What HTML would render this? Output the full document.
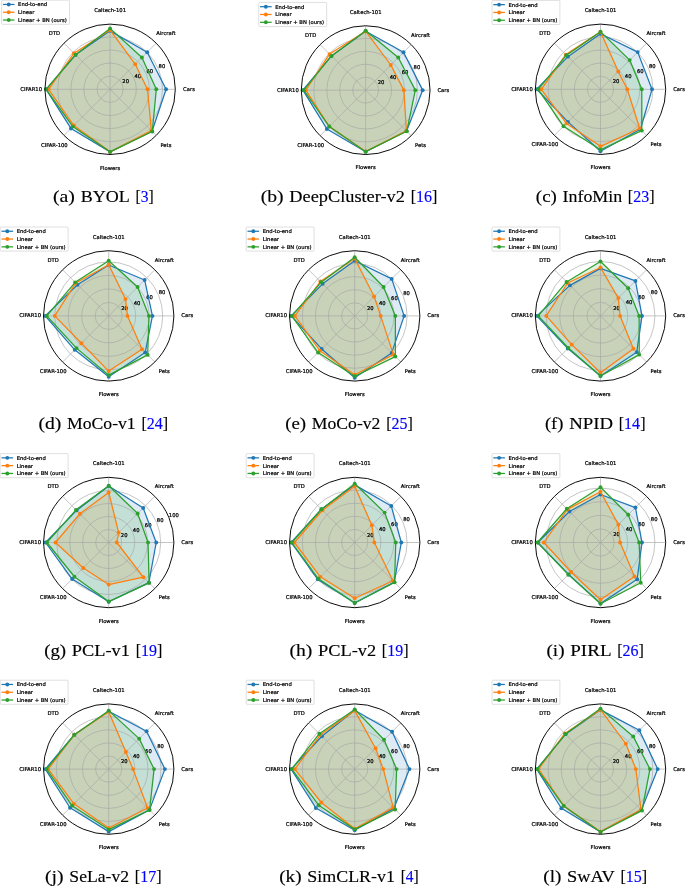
<!DOCTYPE html>
<html><head><meta charset="utf-8"><title>Radar charts</title>
<style>
html,body{margin:0;padding:0;background:#fff}
svg{display:block}
.t{font-family:"DejaVu Sans","Liberation Sans",sans-serif;font-size:5.25px;fill:#000;stroke:#000;stroke-width:0.22}
.c{font-family:"Liberation Serif",serif;font-size:17.2px;fill:#000;stroke:#000;stroke-width:0.15}
.c .r{fill:#0000ff;stroke:#0000ff}
.gr{stroke:#a6a6a6;stroke-width:0.65;fill:none}
.ln{fill:none;stroke-width:1.25;stroke-linejoin:round}
</style></head><body>
<svg width="685" height="886" viewBox="0 0 685 886">
<rect width="685" height="886" fill="#fff"/>

<g transform="translate(110.1,89.3)">
<polygon points="56,-0 37.1,-37.1 0,-58.45 -34.54,-34.54 -63.97,-0 -39.13,39.13 -0,62.54 41.91,41.91" fill="#1f77b4" fill-opacity="0.15" stroke="none"/>
<polygon points="37.4,-0 25.15,-25.15 0,-59.27 -36.13,-36.13 -61.52,-0 -36.27,36.27 -0,62.54 41.29,41.29" fill="#ff7f0e" fill-opacity="0.15" stroke="none"/>
<polygon points="46.19,-0 31.79,-31.79 0,-60.9 -34.54,-34.54 -63.97,-0 -37.28,37.28 -0,62.54 42.2,42.2" fill="#2ca02c" fill-opacity="0.15" stroke="none"/>
<circle class="gr" r="13.1"/><circle class="gr" r="26.2"/><circle class="gr" r="39.3"/><circle class="gr" r="52.4"/><line class="gr" x2="65.2" y2="-0"/><line class="gr" x2="46.1" y2="-46.1"/><line class="gr" x2="0" y2="-65.2"/><line class="gr" x2="-46.1" y2="-46.1"/><line class="gr" x2="-65.2" y2="-0"/><line class="gr" x2="-46.1" y2="46.1"/><line class="gr" x2="-0" y2="65.2"/><line class="gr" x2="46.1" y2="46.1"/>
<text class="t" x="12.2" y="-6.01">20</text>
<text class="t" x="24.31" y="-11.03">40</text>
<text class="t" x="36.41" y="-16.04">60</text>
<text class="t" x="48.51" y="-21.05">80</text>
<polygon class="ln" points="56,-0 37.1,-37.1 0,-58.45 -34.54,-34.54 -63.97,-0 -39.13,39.13 -0,62.54 41.91,41.91" stroke="#1f77b4"/>
<circle cx="56" cy="-0" r="1.95" fill="#1f77b4"/><circle cx="37.1" cy="-37.1" r="1.95" fill="#1f77b4"/><circle cx="0" cy="-58.45" r="1.95" fill="#1f77b4"/><circle cx="-34.54" cy="-34.54" r="1.95" fill="#1f77b4"/><circle cx="-63.97" cy="-0" r="1.95" fill="#1f77b4"/><circle cx="-39.13" cy="39.13" r="1.95" fill="#1f77b4"/><circle cx="-0" cy="62.54" r="1.95" fill="#1f77b4"/><circle cx="41.91" cy="41.91" r="1.95" fill="#1f77b4"/>
<polygon class="ln" points="37.4,-0 25.15,-25.15 0,-59.27 -36.13,-36.13 -61.52,-0 -36.27,36.27 -0,62.54 41.29,41.29" stroke="#ff7f0e"/>
<circle cx="37.4" cy="-0" r="1.95" fill="#ff7f0e"/><circle cx="25.15" cy="-25.15" r="1.95" fill="#ff7f0e"/><circle cx="0" cy="-59.27" r="1.95" fill="#ff7f0e"/><circle cx="-36.13" cy="-36.13" r="1.95" fill="#ff7f0e"/><circle cx="-61.52" cy="-0" r="1.95" fill="#ff7f0e"/><circle cx="-36.27" cy="36.27" r="1.95" fill="#ff7f0e"/><circle cx="-0" cy="62.54" r="1.95" fill="#ff7f0e"/><circle cx="41.29" cy="41.29" r="1.95" fill="#ff7f0e"/>
<polygon class="ln" points="46.19,-0 31.79,-31.79 0,-60.9 -34.54,-34.54 -63.97,-0 -37.28,37.28 -0,62.54 42.2,42.2" stroke="#2ca02c"/>
<circle cx="46.19" cy="-0" r="1.95" fill="#2ca02c"/><circle cx="31.79" cy="-31.79" r="1.95" fill="#2ca02c"/><circle cx="0" cy="-60.9" r="1.95" fill="#2ca02c"/><circle cx="-34.54" cy="-34.54" r="1.95" fill="#2ca02c"/><circle cx="-63.97" cy="-0" r="1.95" fill="#2ca02c"/><circle cx="-37.28" cy="37.28" r="1.95" fill="#2ca02c"/><circle cx="-0" cy="62.54" r="1.95" fill="#2ca02c"/><circle cx="42.2" cy="42.2" r="1.95" fill="#2ca02c"/>
<circle r="65.2" fill="none" stroke="#000" stroke-width="0.95"/>
<text class="t" x="78.9" y="1.45" text-anchor="middle">Cars</text>
<text class="t" x="55.79" y="-54.34" text-anchor="middle">Aircraft</text>
<text class="t" x="0" y="-77.45" text-anchor="middle">Caltech-101</text>
<text class="t" x="-55.79" y="-54.34" text-anchor="middle">DTD</text>
<text class="t" x="-78.9" y="1.45" text-anchor="middle">CIFAR10</text>
<text class="t" x="-55.79" y="57.24" text-anchor="middle">CIFAR-100</text>
<text class="t" x="-0" y="80.35" text-anchor="middle">Flowers</text>
<text class="t" x="55.79" y="57.24" text-anchor="middle">Pets</text>
<rect x="-108.5" y="-89.1" width="67.9" height="24.1" rx="0.9" fill="#fff" fill-opacity="0.8" stroke="#c6c6c6" stroke-width="0.55"/>
<line x1="-107.2" x2="-95.6" y1="-84.85" y2="-84.85" stroke="#1f77b4" stroke-width="1.25"/><circle cx="-101.4" cy="-84.85" r="1.95" fill="#1f77b4"/>
<text class="t" x="-92" y="-82.95">End-to-end</text>
<line x1="-107.2" x2="-95.6" y1="-77.05" y2="-77.05" stroke="#ff7f0e" stroke-width="1.25"/><circle cx="-101.4" cy="-77.05" r="1.95" fill="#ff7f0e"/>
<text class="t" x="-92" y="-75.15">Linear</text>
<line x1="-107.2" x2="-95.6" y1="-69.25" y2="-69.25" stroke="#2ca02c" stroke-width="1.25"/><circle cx="-101.4" cy="-69.25" r="1.95" fill="#2ca02c"/>
<text class="t" x="-92" y="-67.35">Linear + BN (ours)</text>
</g>
<text class="c" x="53.04" y="202.2" textLength="21.92" lengthAdjust="spacingAndGlyphs">(a)</text>
<text class="c" x="80.67" y="202.2" textLength="49.07" lengthAdjust="spacingAndGlyphs">BYOL</text>
<text class="c" x="135.45" y="202.2" textLength="18.11" lengthAdjust="spacingAndGlyphs">[<tspan class="r">3</tspan>]</text>
<g transform="translate(365.65,90.15)">
<polygon points="57.02,-0 37.86,-37.86 0,-58.86 -34.25,-34.25 -62.74,-0 -38.8,38.8 -0,61.62 40.9,40.9" fill="#1f77b4" fill-opacity="0.15" stroke="none"/>
<polygon points="38.22,-0 25.15,-25.15 0,-58.96 -36.06,-36.06 -59.88,-0 -36.35,36.35 -0,61.31 40.75,40.75" fill="#ff7f0e" fill-opacity="0.15" stroke="none"/>
<polygon points="49.66,-0 32.6,-32.6 0,-59.47 -34.18,-34.18 -61.93,-0 -36.35,36.35 -0,61.52 41.11,41.11" fill="#2ca02c" fill-opacity="0.15" stroke="none"/>
<circle class="gr" r="12.95"/><circle class="gr" r="25.9"/><circle class="gr" r="38.85"/><circle class="gr" r="51.8"/><line class="gr" x2="64.4" y2="-0"/><line class="gr" x2="45.54" y2="-45.54"/><line class="gr" x2="0" y2="-64.4"/><line class="gr" x2="-45.54" y2="-45.54"/><line class="gr" x2="-64.4" y2="-0"/><line class="gr" x2="-45.54" y2="45.54"/><line class="gr" x2="-0" y2="64.4"/><line class="gr" x2="45.54" y2="45.54"/>
<text class="t" x="12.06" y="-5.96">20</text>
<text class="t" x="24.03" y="-10.91">40</text>
<text class="t" x="35.99" y="-15.87">60</text>
<text class="t" x="47.96" y="-20.82">80</text>
<polygon class="ln" points="57.02,-0 37.86,-37.86 0,-58.86 -34.25,-34.25 -62.74,-0 -38.8,38.8 -0,61.62 40.9,40.9" stroke="#1f77b4"/>
<circle cx="57.02" cy="-0" r="1.95" fill="#1f77b4"/><circle cx="37.86" cy="-37.86" r="1.95" fill="#1f77b4"/><circle cx="0" cy="-58.86" r="1.95" fill="#1f77b4"/><circle cx="-34.25" cy="-34.25" r="1.95" fill="#1f77b4"/><circle cx="-62.74" cy="-0" r="1.95" fill="#1f77b4"/><circle cx="-38.8" cy="38.8" r="1.95" fill="#1f77b4"/><circle cx="-0" cy="61.62" r="1.95" fill="#1f77b4"/><circle cx="40.9" cy="40.9" r="1.95" fill="#1f77b4"/>
<polygon class="ln" points="38.22,-0 25.15,-25.15 0,-58.96 -36.06,-36.06 -59.88,-0 -36.35,36.35 -0,61.31 40.75,40.75" stroke="#ff7f0e"/>
<circle cx="38.22" cy="-0" r="1.95" fill="#ff7f0e"/><circle cx="25.15" cy="-25.15" r="1.95" fill="#ff7f0e"/><circle cx="0" cy="-58.96" r="1.95" fill="#ff7f0e"/><circle cx="-36.06" cy="-36.06" r="1.95" fill="#ff7f0e"/><circle cx="-59.88" cy="-0" r="1.95" fill="#ff7f0e"/><circle cx="-36.35" cy="36.35" r="1.95" fill="#ff7f0e"/><circle cx="-0" cy="61.31" r="1.95" fill="#ff7f0e"/><circle cx="40.75" cy="40.75" r="1.95" fill="#ff7f0e"/>
<polygon class="ln" points="49.66,-0 32.6,-32.6 0,-59.47 -34.18,-34.18 -61.93,-0 -36.35,36.35 -0,61.52 41.11,41.11" stroke="#2ca02c"/>
<circle cx="49.66" cy="-0" r="1.95" fill="#2ca02c"/><circle cx="32.6" cy="-32.6" r="1.95" fill="#2ca02c"/><circle cx="0" cy="-59.47" r="1.95" fill="#2ca02c"/><circle cx="-34.18" cy="-34.18" r="1.95" fill="#2ca02c"/><circle cx="-61.93" cy="-0" r="1.95" fill="#2ca02c"/><circle cx="-36.35" cy="36.35" r="1.95" fill="#2ca02c"/><circle cx="-0" cy="61.52" r="1.95" fill="#2ca02c"/><circle cx="41.11" cy="41.11" r="1.95" fill="#2ca02c"/>
<circle r="64.4" fill="none" stroke="#000" stroke-width="0.95"/>
<text class="t" x="77.7" y="1.45" text-anchor="middle">Cars</text>
<text class="t" x="54.94" y="-53.49" text-anchor="middle">Aircraft</text>
<text class="t" x="0" y="-76.25" text-anchor="middle">Caltech-101</text>
<text class="t" x="-54.94" y="-53.49" text-anchor="middle">DTD</text>
<text class="t" x="-77.7" y="1.45" text-anchor="middle">CIFAR10</text>
<text class="t" x="-54.94" y="56.39" text-anchor="middle">CIFAR-100</text>
<text class="t" x="-0" y="79.15" text-anchor="middle">Flowers</text>
<text class="t" x="54.94" y="56.39" text-anchor="middle">Pets</text>
<rect x="-106.9" y="-87.7" width="67.9" height="24.1" rx="0.9" fill="#fff" fill-opacity="0.8" stroke="#c6c6c6" stroke-width="0.55"/>
<line x1="-105.6" x2="-94" y1="-83.45" y2="-83.45" stroke="#1f77b4" stroke-width="1.25"/><circle cx="-99.8" cy="-83.45" r="1.95" fill="#1f77b4"/>
<text class="t" x="-90.4" y="-81.55">End-to-end</text>
<line x1="-105.6" x2="-94" y1="-75.65" y2="-75.65" stroke="#ff7f0e" stroke-width="1.25"/><circle cx="-99.8" cy="-75.65" r="1.95" fill="#ff7f0e"/>
<text class="t" x="-90.4" y="-73.75">Linear</text>
<line x1="-105.6" x2="-94" y1="-67.85" y2="-67.85" stroke="#2ca02c" stroke-width="1.25"/><circle cx="-99.8" cy="-67.85" r="1.95" fill="#2ca02c"/>
<text class="t" x="-90.4" y="-65.95">Linear + BN (ours)</text>
</g>
<text class="c" x="260.68" y="202.2" textLength="22.88" lengthAdjust="spacingAndGlyphs">(b)</text>
<text class="c" x="289.27" y="202.2" textLength="115.66" lengthAdjust="spacingAndGlyphs">DeepCluster-v2</text>
<text class="c" x="410.64" y="202.2" textLength="26.69" lengthAdjust="spacingAndGlyphs">[<tspan class="r">16</tspan>]</text>
<g transform="translate(600.5,89.3)">
<polygon points="51.5,-0 37.2,-37.2 0,-55.59 -32.66,-32.66 -63.76,-0 -32.6,32.6 -0,61.93 39.96,39.96" fill="#1f77b4" fill-opacity="0.15" stroke="none"/>
<polygon points="26.77,-0 17.78,-17.78 0,-57.53 -34.68,-34.68 -59.27,-0 -34.11,34.11 -0,57.02 39.24,39.24" fill="#ff7f0e" fill-opacity="0.15" stroke="none"/>
<polygon points="41.28,-0 29.22,-29.22 0,-57.63 -34.11,-34.11 -62.33,-0 -37,37 -0,60.49 41.29,41.29" fill="#2ca02c" fill-opacity="0.15" stroke="none"/>
<circle class="gr" r="13.1"/><circle class="gr" r="26.2"/><circle class="gr" r="39.3"/><circle class="gr" r="52.4"/><line class="gr" x2="65.2" y2="-0"/><line class="gr" x2="46.1" y2="-46.1"/><line class="gr" x2="0" y2="-65.2"/><line class="gr" x2="-46.1" y2="-46.1"/><line class="gr" x2="-65.2" y2="-0"/><line class="gr" x2="-46.1" y2="46.1"/><line class="gr" x2="-0" y2="65.2"/><line class="gr" x2="46.1" y2="46.1"/>
<text class="t" x="12.2" y="-6.01">20</text>
<text class="t" x="24.31" y="-11.03">40</text>
<text class="t" x="36.41" y="-16.04">60</text>
<text class="t" x="48.51" y="-21.05">80</text>
<polygon class="ln" points="51.5,-0 37.2,-37.2 0,-55.59 -32.66,-32.66 -63.76,-0 -32.6,32.6 -0,61.93 39.96,39.96" stroke="#1f77b4"/>
<circle cx="51.5" cy="-0" r="1.95" fill="#1f77b4"/><circle cx="37.2" cy="-37.2" r="1.95" fill="#1f77b4"/><circle cx="0" cy="-55.59" r="1.95" fill="#1f77b4"/><circle cx="-32.66" cy="-32.66" r="1.95" fill="#1f77b4"/><circle cx="-63.76" cy="-0" r="1.95" fill="#1f77b4"/><circle cx="-32.6" cy="32.6" r="1.95" fill="#1f77b4"/><circle cx="-0" cy="61.93" r="1.95" fill="#1f77b4"/><circle cx="39.96" cy="39.96" r="1.95" fill="#1f77b4"/>
<polygon class="ln" points="26.77,-0 17.78,-17.78 0,-57.53 -34.68,-34.68 -59.27,-0 -34.11,34.11 -0,57.02 39.24,39.24" stroke="#ff7f0e"/>
<circle cx="26.77" cy="-0" r="1.95" fill="#ff7f0e"/><circle cx="17.78" cy="-17.78" r="1.95" fill="#ff7f0e"/><circle cx="0" cy="-57.53" r="1.95" fill="#ff7f0e"/><circle cx="-34.68" cy="-34.68" r="1.95" fill="#ff7f0e"/><circle cx="-59.27" cy="-0" r="1.95" fill="#ff7f0e"/><circle cx="-34.11" cy="34.11" r="1.95" fill="#ff7f0e"/><circle cx="-0" cy="57.02" r="1.95" fill="#ff7f0e"/><circle cx="39.24" cy="39.24" r="1.95" fill="#ff7f0e"/>
<polygon class="ln" points="41.28,-0 29.22,-29.22 0,-57.63 -34.11,-34.11 -62.33,-0 -37,37 -0,60.49 41.29,41.29" stroke="#2ca02c"/>
<circle cx="41.28" cy="-0" r="1.95" fill="#2ca02c"/><circle cx="29.22" cy="-29.22" r="1.95" fill="#2ca02c"/><circle cx="0" cy="-57.63" r="1.95" fill="#2ca02c"/><circle cx="-34.11" cy="-34.11" r="1.95" fill="#2ca02c"/><circle cx="-62.33" cy="-0" r="1.95" fill="#2ca02c"/><circle cx="-37" cy="37" r="1.95" fill="#2ca02c"/><circle cx="-0" cy="60.49" r="1.95" fill="#2ca02c"/><circle cx="41.29" cy="41.29" r="1.95" fill="#2ca02c"/>
<circle r="65.2" fill="none" stroke="#000" stroke-width="0.95"/>
<text class="t" x="78.55" y="1.45" text-anchor="middle">Cars</text>
<text class="t" x="55.54" y="-54.09" text-anchor="middle">Aircraft</text>
<text class="t" x="0" y="-77.1" text-anchor="middle">Caltech-101</text>
<text class="t" x="-55.54" y="-54.09" text-anchor="middle">DTD</text>
<text class="t" x="-78.55" y="1.45" text-anchor="middle">CIFAR10</text>
<text class="t" x="-55.54" y="56.99" text-anchor="middle">CIFAR-100</text>
<text class="t" x="-0" y="80" text-anchor="middle">Flowers</text>
<text class="t" x="55.54" y="56.99" text-anchor="middle">Pets</text>
<rect x="-108.5" y="-88.9" width="67.9" height="24.1" rx="0.9" fill="#fff" fill-opacity="0.8" stroke="#c6c6c6" stroke-width="0.55"/>
<line x1="-107.2" x2="-95.6" y1="-84.65" y2="-84.65" stroke="#1f77b4" stroke-width="1.25"/><circle cx="-101.4" cy="-84.65" r="1.95" fill="#1f77b4"/>
<text class="t" x="-92" y="-82.75">End-to-end</text>
<line x1="-107.2" x2="-95.6" y1="-76.85" y2="-76.85" stroke="#ff7f0e" stroke-width="1.25"/><circle cx="-101.4" cy="-76.85" r="1.95" fill="#ff7f0e"/>
<text class="t" x="-92" y="-74.95">Linear</text>
<line x1="-107.2" x2="-95.6" y1="-69.05" y2="-69.05" stroke="#2ca02c" stroke-width="1.25"/><circle cx="-101.4" cy="-69.05" r="1.95" fill="#2ca02c"/>
<text class="t" x="-92" y="-67.15">Linear + BN (ours)</text>
</g>
<text class="c" x="535.88" y="202.2" textLength="20.96" lengthAdjust="spacingAndGlyphs">(c)</text>
<text class="c" x="562.55" y="202.2" textLength="59.58" lengthAdjust="spacingAndGlyphs">InfoMin</text>
<text class="c" x="627.84" y="202.2" textLength="26.69" lengthAdjust="spacingAndGlyphs">[<tspan class="r">23</tspan>]</text>
<g transform="translate(108.7,315.9)">
<polygon points="43.74,-0 35.93,-35.93 0,-50.89 -31.22,-31.22 -63.5,-0 -33.96,33.96 -0,60.9 36.53,36.53" fill="#1f77b4" fill-opacity="0.15" stroke="none"/>
<polygon points="18.8,-0 16.81,-16.81 0,-51.09 -32.95,-32.95 -53.95,-0 -27.31,27.31 -0,55.18 33.38,33.38" fill="#ff7f0e" fill-opacity="0.15" stroke="none"/>
<polygon points="40.26,-0 28.9,-28.9 0,-55.18 -33.57,-33.57 -61.93,-0 -32.23,32.23 -0,59.27 38.99,38.99" fill="#2ca02c" fill-opacity="0.15" stroke="none"/>
<circle class="gr" r="13.5"/><circle class="gr" r="27"/><circle class="gr" r="40.5"/><circle class="gr" r="54"/><line class="gr" x2="65.2" y2="-0"/><line class="gr" x2="46.1" y2="-46.1"/><line class="gr" x2="0" y2="-65.2"/><line class="gr" x2="-46.1" y2="-46.1"/><line class="gr" x2="-65.2" y2="-0"/><line class="gr" x2="-46.1" y2="46.1"/><line class="gr" x2="-0" y2="65.2"/><line class="gr" x2="46.1" y2="46.1"/>
<text class="t" x="12.57" y="-6.17">20</text>
<text class="t" x="25.04" y="-11.33">40</text>
<text class="t" x="37.52" y="-16.5">60</text>
<text class="t" x="49.99" y="-21.66">80</text>
<polygon class="ln" points="43.74,-0 35.93,-35.93 0,-50.89 -31.22,-31.22 -63.5,-0 -33.96,33.96 -0,60.9 36.53,36.53" stroke="#1f77b4"/>
<circle cx="43.74" cy="-0" r="1.95" fill="#1f77b4"/><circle cx="35.93" cy="-35.93" r="1.95" fill="#1f77b4"/><circle cx="0" cy="-50.89" r="1.95" fill="#1f77b4"/><circle cx="-31.22" cy="-31.22" r="1.95" fill="#1f77b4"/><circle cx="-63.5" cy="-0" r="1.95" fill="#1f77b4"/><circle cx="-33.96" cy="33.96" r="1.95" fill="#1f77b4"/><circle cx="-0" cy="60.9" r="1.95" fill="#1f77b4"/><circle cx="36.53" cy="36.53" r="1.95" fill="#1f77b4"/>
<polygon class="ln" points="18.8,-0 16.81,-16.81 0,-51.09 -32.95,-32.95 -53.95,-0 -27.31,27.31 -0,55.18 33.38,33.38" stroke="#ff7f0e"/>
<circle cx="18.8" cy="-0" r="1.95" fill="#ff7f0e"/><circle cx="16.81" cy="-16.81" r="1.95" fill="#ff7f0e"/><circle cx="0" cy="-51.09" r="1.95" fill="#ff7f0e"/><circle cx="-32.95" cy="-32.95" r="1.95" fill="#ff7f0e"/><circle cx="-53.95" cy="-0" r="1.95" fill="#ff7f0e"/><circle cx="-27.31" cy="27.31" r="1.95" fill="#ff7f0e"/><circle cx="-0" cy="55.18" r="1.95" fill="#ff7f0e"/><circle cx="33.38" cy="33.38" r="1.95" fill="#ff7f0e"/>
<polygon class="ln" points="40.26,-0 28.9,-28.9 0,-55.18 -33.57,-33.57 -61.93,-0 -32.23,32.23 -0,59.27 38.99,38.99" stroke="#2ca02c"/>
<circle cx="40.26" cy="-0" r="1.95" fill="#2ca02c"/><circle cx="28.9" cy="-28.9" r="1.95" fill="#2ca02c"/><circle cx="0" cy="-55.18" r="1.95" fill="#2ca02c"/><circle cx="-33.57" cy="-33.57" r="1.95" fill="#2ca02c"/><circle cx="-61.93" cy="-0" r="1.95" fill="#2ca02c"/><circle cx="-32.23" cy="32.23" r="1.95" fill="#2ca02c"/><circle cx="-0" cy="59.27" r="1.95" fill="#2ca02c"/><circle cx="38.99" cy="38.99" r="1.95" fill="#2ca02c"/>
<circle r="65.2" fill="none" stroke="#000" stroke-width="0.95"/>
<text class="t" x="78.55" y="1.45" text-anchor="middle">Cars</text>
<text class="t" x="55.54" y="-54.09" text-anchor="middle">Aircraft</text>
<text class="t" x="0" y="-77.1" text-anchor="middle">Caltech-101</text>
<text class="t" x="-55.54" y="-54.09" text-anchor="middle">DTD</text>
<text class="t" x="-78.55" y="1.45" text-anchor="middle">CIFAR10</text>
<text class="t" x="-55.54" y="56.99" text-anchor="middle">CIFAR-100</text>
<text class="t" x="-0" y="80" text-anchor="middle">Flowers</text>
<text class="t" x="55.54" y="56.99" text-anchor="middle">Pets</text>
<rect x="-108.5" y="-88.9" width="67.9" height="24.1" rx="0.9" fill="#fff" fill-opacity="0.8" stroke="#c6c6c6" stroke-width="0.55"/>
<line x1="-107.2" x2="-95.6" y1="-84.65" y2="-84.65" stroke="#1f77b4" stroke-width="1.25"/><circle cx="-101.4" cy="-84.65" r="1.95" fill="#1f77b4"/>
<text class="t" x="-92" y="-82.75">End-to-end</text>
<line x1="-107.2" x2="-95.6" y1="-76.85" y2="-76.85" stroke="#ff7f0e" stroke-width="1.25"/><circle cx="-101.4" cy="-76.85" r="1.95" fill="#ff7f0e"/>
<text class="t" x="-92" y="-74.95">Linear</text>
<line x1="-107.2" x2="-95.6" y1="-69.05" y2="-69.05" stroke="#2ca02c" stroke-width="1.25"/><circle cx="-101.4" cy="-69.05" r="1.95" fill="#2ca02c"/>
<text class="t" x="-92" y="-67.15">Linear + BN (ours)</text>
</g>
<text class="c" x="38.51" y="429" textLength="22.88" lengthAdjust="spacingAndGlyphs">(d)</text>
<text class="c" x="67.1" y="429" textLength="68.6" lengthAdjust="spacingAndGlyphs">MoCo-v1</text>
<text class="c" x="141.41" y="429" textLength="26.69" lengthAdjust="spacingAndGlyphs">[<tspan class="r">24</tspan>]</text>
<g transform="translate(354.7,315.9)">
<polygon points="49.46,-0 37,-37 0,-55.18 -32.08,-32.08 -63.56,-0 -33.01,33.01 -0,61.93 37,37" fill="#1f77b4" fill-opacity="0.15" stroke="none"/>
<polygon points="25.96,-0 19.42,-19.42 0,-57.43 -34.34,-34.34 -59.88,-0 -34.83,34.83 -0,58.86 38.73,38.73" fill="#ff7f0e" fill-opacity="0.15" stroke="none"/>
<polygon points="40.67,-0 28.9,-28.9 0,-58.66 -33.61,-33.61 -62.95,-0 -36.68,36.68 -0,60.29 40.67,40.67" fill="#2ca02c" fill-opacity="0.15" stroke="none"/>
<circle class="gr" r="13.1"/><circle class="gr" r="26.2"/><circle class="gr" r="39.3"/><circle class="gr" r="52.4"/><line class="gr" x2="65.2" y2="-0"/><line class="gr" x2="46.1" y2="-46.1"/><line class="gr" x2="0" y2="-65.2"/><line class="gr" x2="-46.1" y2="-46.1"/><line class="gr" x2="-65.2" y2="-0"/><line class="gr" x2="-46.1" y2="46.1"/><line class="gr" x2="-0" y2="65.2"/><line class="gr" x2="46.1" y2="46.1"/>
<text class="t" x="12.2" y="-6.01">20</text>
<text class="t" x="24.31" y="-11.03">40</text>
<text class="t" x="36.41" y="-16.04">60</text>
<text class="t" x="48.51" y="-21.05">80</text>
<polygon class="ln" points="49.46,-0 37,-37 0,-55.18 -32.08,-32.08 -63.56,-0 -33.01,33.01 -0,61.93 37,37" stroke="#1f77b4"/>
<circle cx="49.46" cy="-0" r="1.95" fill="#1f77b4"/><circle cx="37" cy="-37" r="1.95" fill="#1f77b4"/><circle cx="0" cy="-55.18" r="1.95" fill="#1f77b4"/><circle cx="-32.08" cy="-32.08" r="1.95" fill="#1f77b4"/><circle cx="-63.56" cy="-0" r="1.95" fill="#1f77b4"/><circle cx="-33.01" cy="33.01" r="1.95" fill="#1f77b4"/><circle cx="-0" cy="61.93" r="1.95" fill="#1f77b4"/><circle cx="37" cy="37" r="1.95" fill="#1f77b4"/>
<polygon class="ln" points="25.96,-0 19.42,-19.42 0,-57.43 -34.34,-34.34 -59.88,-0 -34.83,34.83 -0,58.86 38.73,38.73" stroke="#ff7f0e"/>
<circle cx="25.96" cy="-0" r="1.95" fill="#ff7f0e"/><circle cx="19.42" cy="-19.42" r="1.95" fill="#ff7f0e"/><circle cx="0" cy="-57.43" r="1.95" fill="#ff7f0e"/><circle cx="-34.34" cy="-34.34" r="1.95" fill="#ff7f0e"/><circle cx="-59.88" cy="-0" r="1.95" fill="#ff7f0e"/><circle cx="-34.83" cy="34.83" r="1.95" fill="#ff7f0e"/><circle cx="-0" cy="58.86" r="1.95" fill="#ff7f0e"/><circle cx="38.73" cy="38.73" r="1.95" fill="#ff7f0e"/>
<polygon class="ln" points="40.67,-0 28.9,-28.9 0,-58.66 -33.61,-33.61 -62.95,-0 -36.68,36.68 -0,60.29 40.67,40.67" stroke="#2ca02c"/>
<circle cx="40.67" cy="-0" r="1.95" fill="#2ca02c"/><circle cx="28.9" cy="-28.9" r="1.95" fill="#2ca02c"/><circle cx="0" cy="-58.66" r="1.95" fill="#2ca02c"/><circle cx="-33.61" cy="-33.61" r="1.95" fill="#2ca02c"/><circle cx="-62.95" cy="-0" r="1.95" fill="#2ca02c"/><circle cx="-36.68" cy="36.68" r="1.95" fill="#2ca02c"/><circle cx="-0" cy="60.29" r="1.95" fill="#2ca02c"/><circle cx="40.67" cy="40.67" r="1.95" fill="#2ca02c"/>
<circle r="65.2" fill="none" stroke="#000" stroke-width="0.95"/>
<text class="t" x="78.55" y="1.45" text-anchor="middle">Cars</text>
<text class="t" x="55.54" y="-54.09" text-anchor="middle">Aircraft</text>
<text class="t" x="0" y="-77.1" text-anchor="middle">Caltech-101</text>
<text class="t" x="-55.54" y="-54.09" text-anchor="middle">DTD</text>
<text class="t" x="-78.55" y="1.45" text-anchor="middle">CIFAR10</text>
<text class="t" x="-55.54" y="56.99" text-anchor="middle">CIFAR-100</text>
<text class="t" x="-0" y="80" text-anchor="middle">Flowers</text>
<text class="t" x="55.54" y="56.99" text-anchor="middle">Pets</text>
<rect x="-108.5" y="-88.9" width="67.9" height="24.1" rx="0.9" fill="#fff" fill-opacity="0.8" stroke="#c6c6c6" stroke-width="0.55"/>
<line x1="-107.2" x2="-95.6" y1="-84.65" y2="-84.65" stroke="#1f77b4" stroke-width="1.25"/><circle cx="-101.4" cy="-84.65" r="1.95" fill="#1f77b4"/>
<text class="t" x="-92" y="-82.75">End-to-end</text>
<line x1="-107.2" x2="-95.6" y1="-76.85" y2="-76.85" stroke="#ff7f0e" stroke-width="1.25"/><circle cx="-101.4" cy="-76.85" r="1.95" fill="#ff7f0e"/>
<text class="t" x="-92" y="-74.95">Linear</text>
<line x1="-107.2" x2="-95.6" y1="-69.05" y2="-69.05" stroke="#2ca02c" stroke-width="1.25"/><circle cx="-101.4" cy="-69.05" r="1.95" fill="#2ca02c"/>
<text class="t" x="-92" y="-67.15">Linear + BN (ours)</text>
</g>
<text class="c" x="285.17" y="429" textLength="20.96" lengthAdjust="spacingAndGlyphs">(e)</text>
<text class="c" x="311.84" y="429" textLength="68.6" lengthAdjust="spacingAndGlyphs">MoCo-v2</text>
<text class="c" x="386.15" y="429" textLength="26.69" lengthAdjust="spacingAndGlyphs">[<tspan class="r">25</tspan>]</text>
<g transform="translate(600.5,315.9)">
<polygon points="41.49,-0 34.94,-34.94 0,-47.52 -30.56,-30.56 -63.76,-0 -32.66,32.66 -0,60.09 36.27,36.27" fill="#1f77b4" fill-opacity="0.15" stroke="none"/>
<polygon points="19.62,-0 17.78,-17.78 0,-48.44 -32.88,-32.88 -54.26,-0 -28.76,28.76 -0,56.82 32.91,32.91" fill="#ff7f0e" fill-opacity="0.15" stroke="none"/>
<polygon points="38.63,-0 27.69,-27.69 0,-54.36 -33.96,-33.96 -62.23,-0 -32.15,32.15 -0,60.09 38.73,38.73" fill="#2ca02c" fill-opacity="0.15" stroke="none"/>
<circle class="gr" r="13.6"/><circle class="gr" r="27.2"/><circle class="gr" r="40.8"/><circle class="gr" r="54.4"/><line class="gr" x2="65.2" y2="-0"/><line class="gr" x2="46.1" y2="-46.1"/><line class="gr" x2="0" y2="-65.2"/><line class="gr" x2="-46.1" y2="-46.1"/><line class="gr" x2="-65.2" y2="-0"/><line class="gr" x2="-46.1" y2="46.1"/><line class="gr" x2="-0" y2="65.2"/><line class="gr" x2="46.1" y2="46.1"/>
<text class="t" x="12.66" y="-6.2">20</text>
<text class="t" x="25.23" y="-11.41">40</text>
<text class="t" x="37.79" y="-16.61">60</text>
<text class="t" x="50.36" y="-21.82">80</text>
<polygon class="ln" points="41.49,-0 34.94,-34.94 0,-47.52 -30.56,-30.56 -63.76,-0 -32.66,32.66 -0,60.09 36.27,36.27" stroke="#1f77b4"/>
<circle cx="41.49" cy="-0" r="1.95" fill="#1f77b4"/><circle cx="34.94" cy="-34.94" r="1.95" fill="#1f77b4"/><circle cx="0" cy="-47.52" r="1.95" fill="#1f77b4"/><circle cx="-30.56" cy="-30.56" r="1.95" fill="#1f77b4"/><circle cx="-63.76" cy="-0" r="1.95" fill="#1f77b4"/><circle cx="-32.66" cy="32.66" r="1.95" fill="#1f77b4"/><circle cx="-0" cy="60.09" r="1.95" fill="#1f77b4"/><circle cx="36.27" cy="36.27" r="1.95" fill="#1f77b4"/>
<polygon class="ln" points="19.62,-0 17.78,-17.78 0,-48.44 -32.88,-32.88 -54.26,-0 -28.76,28.76 -0,56.82 32.91,32.91" stroke="#ff7f0e"/>
<circle cx="19.62" cy="-0" r="1.95" fill="#ff7f0e"/><circle cx="17.78" cy="-17.78" r="1.95" fill="#ff7f0e"/><circle cx="0" cy="-48.44" r="1.95" fill="#ff7f0e"/><circle cx="-32.88" cy="-32.88" r="1.95" fill="#ff7f0e"/><circle cx="-54.26" cy="-0" r="1.95" fill="#ff7f0e"/><circle cx="-28.76" cy="28.76" r="1.95" fill="#ff7f0e"/><circle cx="-0" cy="56.82" r="1.95" fill="#ff7f0e"/><circle cx="32.91" cy="32.91" r="1.95" fill="#ff7f0e"/>
<polygon class="ln" points="38.63,-0 27.69,-27.69 0,-54.36 -33.96,-33.96 -62.23,-0 -32.15,32.15 -0,60.09 38.73,38.73" stroke="#2ca02c"/>
<circle cx="38.63" cy="-0" r="1.95" fill="#2ca02c"/><circle cx="27.69" cy="-27.69" r="1.95" fill="#2ca02c"/><circle cx="0" cy="-54.36" r="1.95" fill="#2ca02c"/><circle cx="-33.96" cy="-33.96" r="1.95" fill="#2ca02c"/><circle cx="-62.23" cy="-0" r="1.95" fill="#2ca02c"/><circle cx="-32.15" cy="32.15" r="1.95" fill="#2ca02c"/><circle cx="-0" cy="60.09" r="1.95" fill="#2ca02c"/><circle cx="38.73" cy="38.73" r="1.95" fill="#2ca02c"/>
<circle r="65.2" fill="none" stroke="#000" stroke-width="0.95"/>
<text class="t" x="78.55" y="1.45" text-anchor="middle">Cars</text>
<text class="t" x="55.54" y="-54.09" text-anchor="middle">Aircraft</text>
<text class="t" x="0" y="-77.1" text-anchor="middle">Caltech-101</text>
<text class="t" x="-55.54" y="-54.09" text-anchor="middle">DTD</text>
<text class="t" x="-78.55" y="1.45" text-anchor="middle">CIFAR10</text>
<text class="t" x="-55.54" y="56.99" text-anchor="middle">CIFAR-100</text>
<text class="t" x="-0" y="80" text-anchor="middle">Flowers</text>
<text class="t" x="55.54" y="56.99" text-anchor="middle">Pets</text>
<rect x="-108.5" y="-88.9" width="67.9" height="24.1" rx="0.9" fill="#fff" fill-opacity="0.8" stroke="#c6c6c6" stroke-width="0.55"/>
<line x1="-107.2" x2="-95.6" y1="-84.65" y2="-84.65" stroke="#1f77b4" stroke-width="1.25"/><circle cx="-101.4" cy="-84.65" r="1.95" fill="#1f77b4"/>
<text class="t" x="-92" y="-82.75">End-to-end</text>
<line x1="-107.2" x2="-95.6" y1="-76.85" y2="-76.85" stroke="#ff7f0e" stroke-width="1.25"/><circle cx="-101.4" cy="-76.85" r="1.95" fill="#ff7f0e"/>
<text class="t" x="-92" y="-74.95">Linear</text>
<line x1="-107.2" x2="-95.6" y1="-69.05" y2="-69.05" stroke="#2ca02c" stroke-width="1.25"/><circle cx="-101.4" cy="-69.05" r="1.95" fill="#2ca02c"/>
<text class="t" x="-92" y="-67.15">Linear + BN (ours)</text>
</g>
<text class="c" x="544.93" y="429" textLength="18.59" lengthAdjust="spacingAndGlyphs">(f)</text>
<text class="c" x="569.23" y="429" textLength="43.84" lengthAdjust="spacingAndGlyphs">NPID</text>
<text class="c" x="618.78" y="429" textLength="26.69" lengthAdjust="spacingAndGlyphs">[<tspan class="r">14</tspan>]</text>
<g transform="translate(108.7,542.5)">
<polygon points="47.52,-0 34.48,-34.48 0,-56.41 -32.08,-32.08 -63.15,-0 -36.53,36.53 -0,59.27 40.17,40.17" fill="#1f77b4" fill-opacity="0.15" stroke="none"/>
<polygon points="8.07,-0 9.97,-9.97 0,-50.07 -28.76,-28.76 -53.24,-0 -25.49,25.49 -0,42.1 34.68,34.68" fill="#ff7f0e" fill-opacity="0.15" stroke="none"/>
<polygon points="39.34,-0 28.98,-28.98 0,-56.82 -32.66,-32.66 -61.82,-0 -34.25,34.25 -0,59.06 40.42,40.42" fill="#2ca02c" fill-opacity="0.15" stroke="none"/>
<circle class="gr" r="13"/><circle class="gr" r="26"/><circle class="gr" r="39"/><circle class="gr" r="52"/><line class="gr" x2="65.2" y2="-0"/><line class="gr" x2="46.1" y2="-46.1"/><line class="gr" x2="0" y2="-65.2"/><line class="gr" x2="-46.1" y2="-46.1"/><line class="gr" x2="-65.2" y2="-0"/><line class="gr" x2="-46.1" y2="46.1"/><line class="gr" x2="-0" y2="65.2"/><line class="gr" x2="46.1" y2="46.1"/>
<text class="t" x="12.11" y="-5.97">20</text>
<text class="t" x="24.12" y="-10.95">40</text>
<text class="t" x="36.13" y="-15.92">60</text>
<text class="t" x="48.14" y="-20.9">80</text>
<text class="t" x="60.15" y="-25.87">100</text>
<polygon class="ln" points="47.52,-0 34.48,-34.48 0,-56.41 -32.08,-32.08 -63.15,-0 -36.53,36.53 -0,59.27 40.17,40.17" stroke="#1f77b4"/>
<circle cx="47.52" cy="-0" r="1.95" fill="#1f77b4"/><circle cx="34.48" cy="-34.48" r="1.95" fill="#1f77b4"/><circle cx="0" cy="-56.41" r="1.95" fill="#1f77b4"/><circle cx="-32.08" cy="-32.08" r="1.95" fill="#1f77b4"/><circle cx="-63.15" cy="-0" r="1.95" fill="#1f77b4"/><circle cx="-36.53" cy="36.53" r="1.95" fill="#1f77b4"/><circle cx="-0" cy="59.27" r="1.95" fill="#1f77b4"/><circle cx="40.17" cy="40.17" r="1.95" fill="#1f77b4"/>
<polygon class="ln" points="8.07,-0 9.97,-9.97 0,-50.07 -28.76,-28.76 -53.24,-0 -25.49,25.49 -0,42.1 34.68,34.68" stroke="#ff7f0e"/>
<circle cx="8.07" cy="-0" r="1.95" fill="#ff7f0e"/><circle cx="9.97" cy="-9.97" r="1.95" fill="#ff7f0e"/><circle cx="0" cy="-50.07" r="1.95" fill="#ff7f0e"/><circle cx="-28.76" cy="-28.76" r="1.95" fill="#ff7f0e"/><circle cx="-53.24" cy="-0" r="1.95" fill="#ff7f0e"/><circle cx="-25.49" cy="25.49" r="1.95" fill="#ff7f0e"/><circle cx="-0" cy="42.1" r="1.95" fill="#ff7f0e"/><circle cx="34.68" cy="34.68" r="1.95" fill="#ff7f0e"/>
<polygon class="ln" points="39.34,-0 28.98,-28.98 0,-56.82 -32.66,-32.66 -61.82,-0 -34.25,34.25 -0,59.06 40.42,40.42" stroke="#2ca02c"/>
<circle cx="39.34" cy="-0" r="1.95" fill="#2ca02c"/><circle cx="28.98" cy="-28.98" r="1.95" fill="#2ca02c"/><circle cx="0" cy="-56.82" r="1.95" fill="#2ca02c"/><circle cx="-32.66" cy="-32.66" r="1.95" fill="#2ca02c"/><circle cx="-61.82" cy="-0" r="1.95" fill="#2ca02c"/><circle cx="-34.25" cy="34.25" r="1.95" fill="#2ca02c"/><circle cx="-0" cy="59.06" r="1.95" fill="#2ca02c"/><circle cx="40.42" cy="40.42" r="1.95" fill="#2ca02c"/>
<circle r="65.2" fill="none" stroke="#000" stroke-width="0.95"/>
<text class="t" x="78.55" y="1.45" text-anchor="middle">Cars</text>
<text class="t" x="55.54" y="-54.09" text-anchor="middle">Aircraft</text>
<text class="t" x="0" y="-77.1" text-anchor="middle">Caltech-101</text>
<text class="t" x="-55.54" y="-54.09" text-anchor="middle">DTD</text>
<text class="t" x="-78.55" y="1.45" text-anchor="middle">CIFAR10</text>
<text class="t" x="-55.54" y="56.99" text-anchor="middle">CIFAR-100</text>
<text class="t" x="-0" y="80" text-anchor="middle">Flowers</text>
<text class="t" x="55.54" y="56.99" text-anchor="middle">Pets</text>
<rect x="-108.5" y="-88.9" width="67.9" height="24.1" rx="0.9" fill="#fff" fill-opacity="0.8" stroke="#c6c6c6" stroke-width="0.55"/>
<line x1="-107.2" x2="-95.6" y1="-84.65" y2="-84.65" stroke="#1f77b4" stroke-width="1.25"/><circle cx="-101.4" cy="-84.65" r="1.95" fill="#1f77b4"/>
<text class="t" x="-92" y="-82.75">End-to-end</text>
<line x1="-107.2" x2="-95.6" y1="-76.85" y2="-76.85" stroke="#ff7f0e" stroke-width="1.25"/><circle cx="-101.4" cy="-76.85" r="1.95" fill="#ff7f0e"/>
<text class="t" x="-92" y="-74.95">Linear</text>
<line x1="-107.2" x2="-95.6" y1="-69.05" y2="-69.05" stroke="#2ca02c" stroke-width="1.25"/><circle cx="-101.4" cy="-69.05" r="1.95" fill="#2ca02c"/>
<text class="t" x="-92" y="-67.15">Linear + BN (ours)</text>
</g>
<text class="c" x="44.23" y="655.6" textLength="21.92" lengthAdjust="spacingAndGlyphs">(g)</text>
<text class="c" x="71.86" y="655.6" textLength="58.12" lengthAdjust="spacingAndGlyphs">PCL-v1</text>
<text class="c" x="135.69" y="655.6" textLength="26.69" lengthAdjust="spacingAndGlyphs">[<tspan class="r">19</tspan>]</text>
<g transform="translate(354.7,542.5)">
<polygon points="46.6,-0 36.56,-36.56 0,-57.63 -33.24,-33.24 -63.56,-0 -36.85,36.85 -0,60.49 39.6,39.6" fill="#1f77b4" fill-opacity="0.15" stroke="none"/>
<polygon points="19.62,-0 17.17,-17.17 0,-56.2 -32.28,-32.28 -60.29,-0 -34.34,34.34 -0,55.79 38.22,38.22" fill="#ff7f0e" fill-opacity="0.15" stroke="none"/>
<polygon points="41.08,-0 29.91,-29.91 0,-58.86 -33.21,-33.21 -62.95,-0 -36.27,36.27 -0,60.49 39.86,39.86" fill="#2ca02c" fill-opacity="0.15" stroke="none"/>
<circle class="gr" r="13.1"/><circle class="gr" r="26.2"/><circle class="gr" r="39.3"/><circle class="gr" r="52.4"/><line class="gr" x2="65.2" y2="-0"/><line class="gr" x2="46.1" y2="-46.1"/><line class="gr" x2="0" y2="-65.2"/><line class="gr" x2="-46.1" y2="-46.1"/><line class="gr" x2="-65.2" y2="-0"/><line class="gr" x2="-46.1" y2="46.1"/><line class="gr" x2="-0" y2="65.2"/><line class="gr" x2="46.1" y2="46.1"/>
<text class="t" x="12.2" y="-6.01">20</text>
<text class="t" x="24.31" y="-11.03">40</text>
<text class="t" x="36.41" y="-16.04">60</text>
<text class="t" x="48.51" y="-21.05">80</text>
<polygon class="ln" points="46.6,-0 36.56,-36.56 0,-57.63 -33.24,-33.24 -63.56,-0 -36.85,36.85 -0,60.49 39.6,39.6" stroke="#1f77b4"/>
<circle cx="46.6" cy="-0" r="1.95" fill="#1f77b4"/><circle cx="36.56" cy="-36.56" r="1.95" fill="#1f77b4"/><circle cx="0" cy="-57.63" r="1.95" fill="#1f77b4"/><circle cx="-33.24" cy="-33.24" r="1.95" fill="#1f77b4"/><circle cx="-63.56" cy="-0" r="1.95" fill="#1f77b4"/><circle cx="-36.85" cy="36.85" r="1.95" fill="#1f77b4"/><circle cx="-0" cy="60.49" r="1.95" fill="#1f77b4"/><circle cx="39.6" cy="39.6" r="1.95" fill="#1f77b4"/>
<polygon class="ln" points="19.62,-0 17.17,-17.17 0,-56.2 -32.28,-32.28 -60.29,-0 -34.34,34.34 -0,55.79 38.22,38.22" stroke="#ff7f0e"/>
<circle cx="19.62" cy="-0" r="1.95" fill="#ff7f0e"/><circle cx="17.17" cy="-17.17" r="1.95" fill="#ff7f0e"/><circle cx="0" cy="-56.2" r="1.95" fill="#ff7f0e"/><circle cx="-32.28" cy="-32.28" r="1.95" fill="#ff7f0e"/><circle cx="-60.29" cy="-0" r="1.95" fill="#ff7f0e"/><circle cx="-34.34" cy="34.34" r="1.95" fill="#ff7f0e"/><circle cx="-0" cy="55.79" r="1.95" fill="#ff7f0e"/><circle cx="38.22" cy="38.22" r="1.95" fill="#ff7f0e"/>
<polygon class="ln" points="41.08,-0 29.91,-29.91 0,-58.86 -33.21,-33.21 -62.95,-0 -36.27,36.27 -0,60.49 39.86,39.86" stroke="#2ca02c"/>
<circle cx="41.08" cy="-0" r="1.95" fill="#2ca02c"/><circle cx="29.91" cy="-29.91" r="1.95" fill="#2ca02c"/><circle cx="0" cy="-58.86" r="1.95" fill="#2ca02c"/><circle cx="-33.21" cy="-33.21" r="1.95" fill="#2ca02c"/><circle cx="-62.95" cy="-0" r="1.95" fill="#2ca02c"/><circle cx="-36.27" cy="36.27" r="1.95" fill="#2ca02c"/><circle cx="-0" cy="60.49" r="1.95" fill="#2ca02c"/><circle cx="39.86" cy="39.86" r="1.95" fill="#2ca02c"/>
<circle r="65.2" fill="none" stroke="#000" stroke-width="0.95"/>
<text class="t" x="78.55" y="1.45" text-anchor="middle">Cars</text>
<text class="t" x="55.54" y="-54.09" text-anchor="middle">Aircraft</text>
<text class="t" x="0" y="-77.1" text-anchor="middle">Caltech-101</text>
<text class="t" x="-55.54" y="-54.09" text-anchor="middle">DTD</text>
<text class="t" x="-78.55" y="1.45" text-anchor="middle">CIFAR10</text>
<text class="t" x="-55.54" y="56.99" text-anchor="middle">CIFAR-100</text>
<text class="t" x="-0" y="80" text-anchor="middle">Flowers</text>
<text class="t" x="55.54" y="56.99" text-anchor="middle">Pets</text>
<rect x="-108.5" y="-88.9" width="67.9" height="24.1" rx="0.9" fill="#fff" fill-opacity="0.8" stroke="#c6c6c6" stroke-width="0.55"/>
<line x1="-107.2" x2="-95.6" y1="-84.65" y2="-84.65" stroke="#1f77b4" stroke-width="1.25"/><circle cx="-101.4" cy="-84.65" r="1.95" fill="#1f77b4"/>
<text class="t" x="-92" y="-82.75">End-to-end</text>
<line x1="-107.2" x2="-95.6" y1="-76.85" y2="-76.85" stroke="#ff7f0e" stroke-width="1.25"/><circle cx="-101.4" cy="-76.85" r="1.95" fill="#ff7f0e"/>
<text class="t" x="-92" y="-74.95">Linear</text>
<line x1="-107.2" x2="-95.6" y1="-69.05" y2="-69.05" stroke="#2ca02c" stroke-width="1.25"/><circle cx="-101.4" cy="-69.05" r="1.95" fill="#2ca02c"/>
<text class="t" x="-92" y="-67.15">Linear + BN (ours)</text>
</g>
<text class="c" x="289.45" y="655.6" textLength="22.88" lengthAdjust="spacingAndGlyphs">(h)</text>
<text class="c" x="318.04" y="655.6" textLength="58.12" lengthAdjust="spacingAndGlyphs">PCL-v2</text>
<text class="c" x="381.87" y="655.6" textLength="26.69" lengthAdjust="spacingAndGlyphs">[<tspan class="r">19</tspan>]</text>
<g transform="translate(600.5,542.5)">
<polygon points="41.49,-0 34.94,-34.94 0,-48.03 -31,-31 -62.74,-0 -31.94,31.94 -0,60.9 36.68,36.68" fill="#1f77b4" fill-opacity="0.15" stroke="none"/>
<polygon points="19.62,-0 17.88,-17.88 0,-50.79 -33.09,-33.09 -56.71,-0 -29.48,29.48 -0,57.22 34.03,34.03" fill="#ff7f0e" fill-opacity="0.15" stroke="none"/>
<polygon points="38.63,-0 27.69,-27.69 0,-55.28 -33.74,-33.74 -63.05,-0 -32.15,32.15 -0,61.31 40.26,40.26" fill="#2ca02c" fill-opacity="0.15" stroke="none"/>
<circle class="gr" r="13.6"/><circle class="gr" r="27.2"/><circle class="gr" r="40.8"/><circle class="gr" r="54.4"/><line class="gr" x2="65.2" y2="-0"/><line class="gr" x2="46.1" y2="-46.1"/><line class="gr" x2="0" y2="-65.2"/><line class="gr" x2="-46.1" y2="-46.1"/><line class="gr" x2="-65.2" y2="-0"/><line class="gr" x2="-46.1" y2="46.1"/><line class="gr" x2="-0" y2="65.2"/><line class="gr" x2="46.1" y2="46.1"/>
<text class="t" x="12.66" y="-6.2">20</text>
<text class="t" x="25.23" y="-11.41">40</text>
<text class="t" x="37.79" y="-16.61">60</text>
<text class="t" x="50.36" y="-21.82">80</text>
<polygon class="ln" points="41.49,-0 34.94,-34.94 0,-48.03 -31,-31 -62.74,-0 -31.94,31.94 -0,60.9 36.68,36.68" stroke="#1f77b4"/>
<circle cx="41.49" cy="-0" r="1.95" fill="#1f77b4"/><circle cx="34.94" cy="-34.94" r="1.95" fill="#1f77b4"/><circle cx="0" cy="-48.03" r="1.95" fill="#1f77b4"/><circle cx="-31" cy="-31" r="1.95" fill="#1f77b4"/><circle cx="-62.74" cy="-0" r="1.95" fill="#1f77b4"/><circle cx="-31.94" cy="31.94" r="1.95" fill="#1f77b4"/><circle cx="-0" cy="60.9" r="1.95" fill="#1f77b4"/><circle cx="36.68" cy="36.68" r="1.95" fill="#1f77b4"/>
<polygon class="ln" points="19.62,-0 17.88,-17.88 0,-50.79 -33.09,-33.09 -56.71,-0 -29.48,29.48 -0,57.22 34.03,34.03" stroke="#ff7f0e"/>
<circle cx="19.62" cy="-0" r="1.95" fill="#ff7f0e"/><circle cx="17.88" cy="-17.88" r="1.95" fill="#ff7f0e"/><circle cx="0" cy="-50.79" r="1.95" fill="#ff7f0e"/><circle cx="-33.09" cy="-33.09" r="1.95" fill="#ff7f0e"/><circle cx="-56.71" cy="-0" r="1.95" fill="#ff7f0e"/><circle cx="-29.48" cy="29.48" r="1.95" fill="#ff7f0e"/><circle cx="-0" cy="57.22" r="1.95" fill="#ff7f0e"/><circle cx="34.03" cy="34.03" r="1.95" fill="#ff7f0e"/>
<polygon class="ln" points="38.63,-0 27.69,-27.69 0,-55.28 -33.74,-33.74 -63.05,-0 -32.15,32.15 -0,61.31 40.26,40.26" stroke="#2ca02c"/>
<circle cx="38.63" cy="-0" r="1.95" fill="#2ca02c"/><circle cx="27.69" cy="-27.69" r="1.95" fill="#2ca02c"/><circle cx="0" cy="-55.28" r="1.95" fill="#2ca02c"/><circle cx="-33.74" cy="-33.74" r="1.95" fill="#2ca02c"/><circle cx="-63.05" cy="-0" r="1.95" fill="#2ca02c"/><circle cx="-32.15" cy="32.15" r="1.95" fill="#2ca02c"/><circle cx="-0" cy="61.31" r="1.95" fill="#2ca02c"/><circle cx="40.26" cy="40.26" r="1.95" fill="#2ca02c"/>
<circle r="65.2" fill="none" stroke="#000" stroke-width="0.95"/>
<text class="t" x="78.55" y="1.45" text-anchor="middle">Cars</text>
<text class="t" x="55.54" y="-54.09" text-anchor="middle">Aircraft</text>
<text class="t" x="0" y="-77.1" text-anchor="middle">Caltech-101</text>
<text class="t" x="-55.54" y="-54.09" text-anchor="middle">DTD</text>
<text class="t" x="-78.55" y="1.45" text-anchor="middle">CIFAR10</text>
<text class="t" x="-55.54" y="56.99" text-anchor="middle">CIFAR-100</text>
<text class="t" x="-0" y="80" text-anchor="middle">Flowers</text>
<text class="t" x="55.54" y="56.99" text-anchor="middle">Pets</text>
<rect x="-108.5" y="-88.9" width="67.9" height="24.1" rx="0.9" fill="#fff" fill-opacity="0.8" stroke="#c6c6c6" stroke-width="0.55"/>
<line x1="-107.2" x2="-95.6" y1="-84.65" y2="-84.65" stroke="#1f77b4" stroke-width="1.25"/><circle cx="-101.4" cy="-84.65" r="1.95" fill="#1f77b4"/>
<text class="t" x="-92" y="-82.75">End-to-end</text>
<line x1="-107.2" x2="-95.6" y1="-76.85" y2="-76.85" stroke="#ff7f0e" stroke-width="1.25"/><circle cx="-101.4" cy="-76.85" r="1.95" fill="#ff7f0e"/>
<text class="t" x="-92" y="-74.95">Linear</text>
<line x1="-107.2" x2="-95.6" y1="-69.05" y2="-69.05" stroke="#2ca02c" stroke-width="1.25"/><circle cx="-101.4" cy="-69.05" r="1.95" fill="#2ca02c"/>
<text class="t" x="-92" y="-67.15">Linear + BN (ours)</text>
</g>
<text class="c" x="546.49" y="655.6" textLength="18.11" lengthAdjust="spacingAndGlyphs">(i)</text>
<text class="c" x="570.31" y="655.6" textLength="41.21" lengthAdjust="spacingAndGlyphs">PIRL</text>
<text class="c" x="617.23" y="655.6" textLength="26.69" lengthAdjust="spacingAndGlyphs">[<tspan class="r">26</tspan>]</text>
<g transform="translate(108.7,769.1)">
<polygon points="56.2,-0 37.91,-37.91 0,-57.84 -34.39,-34.39 -63.36,-0 -38.63,38.63 -0,62.54 40.75,40.75" fill="#1f77b4" fill-opacity="0.15" stroke="none"/>
<polygon points="24.32,-0 17.17,-17.17 0,-57.43 -34.39,-34.39 -60.49,-0 -34.74,34.74 -0,58.86 38.93,38.93" fill="#ff7f0e" fill-opacity="0.15" stroke="none"/>
<polygon points="45.37,-0 30.45,-30.45 0,-58.45 -34.34,-34.34 -62.13,-0 -36.56,36.56 -0,60.49 40.87,40.87" fill="#2ca02c" fill-opacity="0.15" stroke="none"/>
<circle class="gr" r="13.1"/><circle class="gr" r="26.2"/><circle class="gr" r="39.3"/><circle class="gr" r="52.4"/><line class="gr" x2="65.2" y2="-0"/><line class="gr" x2="46.1" y2="-46.1"/><line class="gr" x2="0" y2="-65.2"/><line class="gr" x2="-46.1" y2="-46.1"/><line class="gr" x2="-65.2" y2="-0"/><line class="gr" x2="-46.1" y2="46.1"/><line class="gr" x2="-0" y2="65.2"/><line class="gr" x2="46.1" y2="46.1"/>
<text class="t" x="12.2" y="-6.01">20</text>
<text class="t" x="24.31" y="-11.03">40</text>
<text class="t" x="36.41" y="-16.04">60</text>
<text class="t" x="48.51" y="-21.05">80</text>
<polygon class="ln" points="56.2,-0 37.91,-37.91 0,-57.84 -34.39,-34.39 -63.36,-0 -38.63,38.63 -0,62.54 40.75,40.75" stroke="#1f77b4"/>
<circle cx="56.2" cy="-0" r="1.95" fill="#1f77b4"/><circle cx="37.91" cy="-37.91" r="1.95" fill="#1f77b4"/><circle cx="0" cy="-57.84" r="1.95" fill="#1f77b4"/><circle cx="-34.39" cy="-34.39" r="1.95" fill="#1f77b4"/><circle cx="-63.36" cy="-0" r="1.95" fill="#1f77b4"/><circle cx="-38.63" cy="38.63" r="1.95" fill="#1f77b4"/><circle cx="-0" cy="62.54" r="1.95" fill="#1f77b4"/><circle cx="40.75" cy="40.75" r="1.95" fill="#1f77b4"/>
<polygon class="ln" points="24.32,-0 17.17,-17.17 0,-57.43 -34.39,-34.39 -60.49,-0 -34.74,34.74 -0,58.86 38.93,38.93" stroke="#ff7f0e"/>
<circle cx="24.32" cy="-0" r="1.95" fill="#ff7f0e"/><circle cx="17.17" cy="-17.17" r="1.95" fill="#ff7f0e"/><circle cx="0" cy="-57.43" r="1.95" fill="#ff7f0e"/><circle cx="-34.39" cy="-34.39" r="1.95" fill="#ff7f0e"/><circle cx="-60.49" cy="-0" r="1.95" fill="#ff7f0e"/><circle cx="-34.74" cy="34.74" r="1.95" fill="#ff7f0e"/><circle cx="-0" cy="58.86" r="1.95" fill="#ff7f0e"/><circle cx="38.93" cy="38.93" r="1.95" fill="#ff7f0e"/>
<polygon class="ln" points="45.37,-0 30.45,-30.45 0,-58.45 -34.34,-34.34 -62.13,-0 -36.56,36.56 -0,60.49 40.87,40.87" stroke="#2ca02c"/>
<circle cx="45.37" cy="-0" r="1.95" fill="#2ca02c"/><circle cx="30.45" cy="-30.45" r="1.95" fill="#2ca02c"/><circle cx="0" cy="-58.45" r="1.95" fill="#2ca02c"/><circle cx="-34.34" cy="-34.34" r="1.95" fill="#2ca02c"/><circle cx="-62.13" cy="-0" r="1.95" fill="#2ca02c"/><circle cx="-36.56" cy="36.56" r="1.95" fill="#2ca02c"/><circle cx="-0" cy="60.49" r="1.95" fill="#2ca02c"/><circle cx="40.87" cy="40.87" r="1.95" fill="#2ca02c"/>
<circle r="65.2" fill="none" stroke="#000" stroke-width="0.95"/>
<text class="t" x="78.55" y="1.45" text-anchor="middle">Cars</text>
<text class="t" x="55.54" y="-54.09" text-anchor="middle">Aircraft</text>
<text class="t" x="0" y="-77.1" text-anchor="middle">Caltech-101</text>
<text class="t" x="-55.54" y="-54.09" text-anchor="middle">DTD</text>
<text class="t" x="-78.55" y="1.45" text-anchor="middle">CIFAR10</text>
<text class="t" x="-55.54" y="56.99" text-anchor="middle">CIFAR-100</text>
<text class="t" x="-0" y="80" text-anchor="middle">Flowers</text>
<text class="t" x="55.54" y="56.99" text-anchor="middle">Pets</text>
<rect x="-108.5" y="-88.9" width="67.9" height="24.1" rx="0.9" fill="#fff" fill-opacity="0.8" stroke="#c6c6c6" stroke-width="0.55"/>
<line x1="-107.2" x2="-95.6" y1="-84.65" y2="-84.65" stroke="#1f77b4" stroke-width="1.25"/><circle cx="-101.4" cy="-84.65" r="1.95" fill="#1f77b4"/>
<text class="t" x="-92" y="-82.75">End-to-end</text>
<line x1="-107.2" x2="-95.6" y1="-76.85" y2="-76.85" stroke="#ff7f0e" stroke-width="1.25"/><circle cx="-101.4" cy="-76.85" r="1.95" fill="#ff7f0e"/>
<text class="t" x="-92" y="-74.95">Linear</text>
<line x1="-107.2" x2="-95.6" y1="-69.05" y2="-69.05" stroke="#2ca02c" stroke-width="1.25"/><circle cx="-101.4" cy="-69.05" r="1.95" fill="#2ca02c"/>
<text class="t" x="-92" y="-67.15">Linear + BN (ours)</text>
</g>
<text class="c" x="45.06" y="882.2" textLength="18.59" lengthAdjust="spacingAndGlyphs">(j)</text>
<text class="c" x="69.36" y="882.2" textLength="59.78" lengthAdjust="spacingAndGlyphs">SeLa-v2</text>
<text class="c" x="134.86" y="882.2" textLength="26.69" lengthAdjust="spacingAndGlyphs">[<tspan class="r">17</tspan>]</text>
<g transform="translate(354.7,769.1)">
<polygon points="54.77,-0 37.4,-37.4 0,-58.86 -32.8,-32.8 -63.56,-0 -38.83,38.83 -0,61.11 39.24,39.24" fill="#1f77b4" fill-opacity="0.15" stroke="none"/>
<polygon points="28.61,-0 20.84,-20.84 0,-58.45 -34.34,-34.34 -59.88,-0 -33.41,33.41 -0,59.68 38.53,38.53" fill="#ff7f0e" fill-opacity="0.15" stroke="none"/>
<polygon points="41.9,-0 29.34,-29.34 0,-59.68 -35.36,-35.36 -62.95,-0 -36.07,36.07 -0,60.29 40.46,40.46" fill="#2ca02c" fill-opacity="0.15" stroke="none"/>
<circle class="gr" r="13.1"/><circle class="gr" r="26.2"/><circle class="gr" r="39.3"/><circle class="gr" r="52.4"/><line class="gr" x2="65.2" y2="-0"/><line class="gr" x2="46.1" y2="-46.1"/><line class="gr" x2="0" y2="-65.2"/><line class="gr" x2="-46.1" y2="-46.1"/><line class="gr" x2="-65.2" y2="-0"/><line class="gr" x2="-46.1" y2="46.1"/><line class="gr" x2="-0" y2="65.2"/><line class="gr" x2="46.1" y2="46.1"/>
<text class="t" x="12.2" y="-6.01">20</text>
<text class="t" x="24.31" y="-11.03">40</text>
<text class="t" x="36.41" y="-16.04">60</text>
<text class="t" x="48.51" y="-21.05">80</text>
<polygon class="ln" points="54.77,-0 37.4,-37.4 0,-58.86 -32.8,-32.8 -63.56,-0 -38.83,38.83 -0,61.11 39.24,39.24" stroke="#1f77b4"/>
<circle cx="54.77" cy="-0" r="1.95" fill="#1f77b4"/><circle cx="37.4" cy="-37.4" r="1.95" fill="#1f77b4"/><circle cx="0" cy="-58.86" r="1.95" fill="#1f77b4"/><circle cx="-32.8" cy="-32.8" r="1.95" fill="#1f77b4"/><circle cx="-63.56" cy="-0" r="1.95" fill="#1f77b4"/><circle cx="-38.83" cy="38.83" r="1.95" fill="#1f77b4"/><circle cx="-0" cy="61.11" r="1.95" fill="#1f77b4"/><circle cx="39.24" cy="39.24" r="1.95" fill="#1f77b4"/>
<polygon class="ln" points="28.61,-0 20.84,-20.84 0,-58.45 -34.34,-34.34 -59.88,-0 -33.41,33.41 -0,59.68 38.53,38.53" stroke="#ff7f0e"/>
<circle cx="28.61" cy="-0" r="1.95" fill="#ff7f0e"/><circle cx="20.84" cy="-20.84" r="1.95" fill="#ff7f0e"/><circle cx="0" cy="-58.45" r="1.95" fill="#ff7f0e"/><circle cx="-34.34" cy="-34.34" r="1.95" fill="#ff7f0e"/><circle cx="-59.88" cy="-0" r="1.95" fill="#ff7f0e"/><circle cx="-33.41" cy="33.41" r="1.95" fill="#ff7f0e"/><circle cx="-0" cy="59.68" r="1.95" fill="#ff7f0e"/><circle cx="38.53" cy="38.53" r="1.95" fill="#ff7f0e"/>
<polygon class="ln" points="41.9,-0 29.34,-29.34 0,-59.68 -35.36,-35.36 -62.95,-0 -36.07,36.07 -0,60.29 40.46,40.46" stroke="#2ca02c"/>
<circle cx="41.9" cy="-0" r="1.95" fill="#2ca02c"/><circle cx="29.34" cy="-29.34" r="1.95" fill="#2ca02c"/><circle cx="0" cy="-59.68" r="1.95" fill="#2ca02c"/><circle cx="-35.36" cy="-35.36" r="1.95" fill="#2ca02c"/><circle cx="-62.95" cy="-0" r="1.95" fill="#2ca02c"/><circle cx="-36.07" cy="36.07" r="1.95" fill="#2ca02c"/><circle cx="-0" cy="60.29" r="1.95" fill="#2ca02c"/><circle cx="40.46" cy="40.46" r="1.95" fill="#2ca02c"/>
<circle r="65.2" fill="none" stroke="#000" stroke-width="0.95"/>
<text class="t" x="78.55" y="1.45" text-anchor="middle">Cars</text>
<text class="t" x="55.54" y="-54.09" text-anchor="middle">Aircraft</text>
<text class="t" x="0" y="-77.1" text-anchor="middle">Caltech-101</text>
<text class="t" x="-55.54" y="-54.09" text-anchor="middle">DTD</text>
<text class="t" x="-78.55" y="1.45" text-anchor="middle">CIFAR10</text>
<text class="t" x="-55.54" y="56.99" text-anchor="middle">CIFAR-100</text>
<text class="t" x="-0" y="80" text-anchor="middle">Flowers</text>
<text class="t" x="55.54" y="56.99" text-anchor="middle">Pets</text>
<rect x="-108.5" y="-88.9" width="67.9" height="24.1" rx="0.9" fill="#fff" fill-opacity="0.8" stroke="#c6c6c6" stroke-width="0.55"/>
<line x1="-107.2" x2="-95.6" y1="-84.65" y2="-84.65" stroke="#1f77b4" stroke-width="1.25"/><circle cx="-101.4" cy="-84.65" r="1.95" fill="#1f77b4"/>
<text class="t" x="-92" y="-82.75">End-to-end</text>
<line x1="-107.2" x2="-95.6" y1="-76.85" y2="-76.85" stroke="#ff7f0e" stroke-width="1.25"/><circle cx="-101.4" cy="-76.85" r="1.95" fill="#ff7f0e"/>
<text class="t" x="-92" y="-74.95">Linear</text>
<line x1="-107.2" x2="-95.6" y1="-69.05" y2="-69.05" stroke="#2ca02c" stroke-width="1.25"/><circle cx="-101.4" cy="-69.05" r="1.95" fill="#2ca02c"/>
<text class="t" x="-92" y="-67.15">Linear + BN (ours)</text>
</g>
<text class="c" x="279.21" y="882.2" textLength="22.4" lengthAdjust="spacingAndGlyphs">(k)</text>
<text class="c" x="307.32" y="882.2" textLength="87.65" lengthAdjust="spacingAndGlyphs">SimCLR-v1</text>
<text class="c" x="400.68" y="882.2" textLength="18.11" lengthAdjust="spacingAndGlyphs">[<tspan class="r">4</tspan>]</text>
<g transform="translate(600.5,769.1)">
<polygon points="57.22,-0 38.83,-38.83 0,-59.27 -34.94,-34.94 -63.76,-0 -39.13,39.13 -0,62.74 40.9,40.9" fill="#1f77b4" fill-opacity="0.15" stroke="none"/>
<polygon points="35.36,-0 25.35,-25.35 0,-59.47 -35.69,-35.69 -61.93,-0 -36.71,36.71 -0,62.54 40.46,40.46" fill="#ff7f0e" fill-opacity="0.15" stroke="none"/>
<polygon points="49.46,-0 32.7,-32.7 0,-60.49 -35.04,-35.04 -63.36,-0 -36.79,36.79 -0,62.95 41.48,41.48" fill="#2ca02c" fill-opacity="0.15" stroke="none"/>
<circle class="gr" r="13.1"/><circle class="gr" r="26.2"/><circle class="gr" r="39.3"/><circle class="gr" r="52.4"/><line class="gr" x2="65.2" y2="-0"/><line class="gr" x2="46.1" y2="-46.1"/><line class="gr" x2="0" y2="-65.2"/><line class="gr" x2="-46.1" y2="-46.1"/><line class="gr" x2="-65.2" y2="-0"/><line class="gr" x2="-46.1" y2="46.1"/><line class="gr" x2="-0" y2="65.2"/><line class="gr" x2="46.1" y2="46.1"/>
<text class="t" x="12.2" y="-6.01">20</text>
<text class="t" x="24.31" y="-11.03">40</text>
<text class="t" x="36.41" y="-16.04">60</text>
<text class="t" x="48.51" y="-21.05">80</text>
<polygon class="ln" points="57.22,-0 38.83,-38.83 0,-59.27 -34.94,-34.94 -63.76,-0 -39.13,39.13 -0,62.74 40.9,40.9" stroke="#1f77b4"/>
<circle cx="57.22" cy="-0" r="1.95" fill="#1f77b4"/><circle cx="38.83" cy="-38.83" r="1.95" fill="#1f77b4"/><circle cx="0" cy="-59.27" r="1.95" fill="#1f77b4"/><circle cx="-34.94" cy="-34.94" r="1.95" fill="#1f77b4"/><circle cx="-63.76" cy="-0" r="1.95" fill="#1f77b4"/><circle cx="-39.13" cy="39.13" r="1.95" fill="#1f77b4"/><circle cx="-0" cy="62.74" r="1.95" fill="#1f77b4"/><circle cx="40.9" cy="40.9" r="1.95" fill="#1f77b4"/>
<polygon class="ln" points="35.36,-0 25.35,-25.35 0,-59.47 -35.69,-35.69 -61.93,-0 -36.71,36.71 -0,62.54 40.46,40.46" stroke="#ff7f0e"/>
<circle cx="35.36" cy="-0" r="1.95" fill="#ff7f0e"/><circle cx="25.35" cy="-25.35" r="1.95" fill="#ff7f0e"/><circle cx="0" cy="-59.47" r="1.95" fill="#ff7f0e"/><circle cx="-35.69" cy="-35.69" r="1.95" fill="#ff7f0e"/><circle cx="-61.93" cy="-0" r="1.95" fill="#ff7f0e"/><circle cx="-36.71" cy="36.71" r="1.95" fill="#ff7f0e"/><circle cx="-0" cy="62.54" r="1.95" fill="#ff7f0e"/><circle cx="40.46" cy="40.46" r="1.95" fill="#ff7f0e"/>
<polygon class="ln" points="49.46,-0 32.7,-32.7 0,-60.49 -35.04,-35.04 -63.36,-0 -36.79,36.79 -0,62.95 41.48,41.48" stroke="#2ca02c"/>
<circle cx="49.46" cy="-0" r="1.95" fill="#2ca02c"/><circle cx="32.7" cy="-32.7" r="1.95" fill="#2ca02c"/><circle cx="0" cy="-60.49" r="1.95" fill="#2ca02c"/><circle cx="-35.04" cy="-35.04" r="1.95" fill="#2ca02c"/><circle cx="-63.36" cy="-0" r="1.95" fill="#2ca02c"/><circle cx="-36.79" cy="36.79" r="1.95" fill="#2ca02c"/><circle cx="-0" cy="62.95" r="1.95" fill="#2ca02c"/><circle cx="41.48" cy="41.48" r="1.95" fill="#2ca02c"/>
<circle r="65.2" fill="none" stroke="#000" stroke-width="0.95"/>
<text class="t" x="78.55" y="1.45" text-anchor="middle">Cars</text>
<text class="t" x="55.54" y="-54.09" text-anchor="middle">Aircraft</text>
<text class="t" x="0" y="-77.1" text-anchor="middle">Caltech-101</text>
<text class="t" x="-55.54" y="-54.09" text-anchor="middle">DTD</text>
<text class="t" x="-78.55" y="1.45" text-anchor="middle">CIFAR10</text>
<text class="t" x="-55.54" y="56.99" text-anchor="middle">CIFAR-100</text>
<text class="t" x="-0" y="80" text-anchor="middle">Flowers</text>
<text class="t" x="55.54" y="56.99" text-anchor="middle">Pets</text>
<rect x="-108.5" y="-88.9" width="67.9" height="24.1" rx="0.9" fill="#fff" fill-opacity="0.8" stroke="#c6c6c6" stroke-width="0.55"/>
<line x1="-107.2" x2="-95.6" y1="-84.65" y2="-84.65" stroke="#1f77b4" stroke-width="1.25"/><circle cx="-101.4" cy="-84.65" r="1.95" fill="#1f77b4"/>
<text class="t" x="-92" y="-82.75">End-to-end</text>
<line x1="-107.2" x2="-95.6" y1="-76.85" y2="-76.85" stroke="#ff7f0e" stroke-width="1.25"/><circle cx="-101.4" cy="-76.85" r="1.95" fill="#ff7f0e"/>
<text class="t" x="-92" y="-74.95">Linear</text>
<line x1="-107.2" x2="-95.6" y1="-69.05" y2="-69.05" stroke="#2ca02c" stroke-width="1.25"/><circle cx="-101.4" cy="-69.05" r="1.95" fill="#2ca02c"/>
<text class="t" x="-92" y="-67.15">Linear + BN (ours)</text>
</g>
<text class="c" x="543.27" y="882.2" textLength="18.11" lengthAdjust="spacingAndGlyphs">(l)</text>
<text class="c" x="567.09" y="882.2" textLength="47.64" lengthAdjust="spacingAndGlyphs">SwAV</text>
<text class="c" x="620.44" y="882.2" textLength="26.69" lengthAdjust="spacingAndGlyphs">[<tspan class="r">15</tspan>]</text>
</svg></body></html>
